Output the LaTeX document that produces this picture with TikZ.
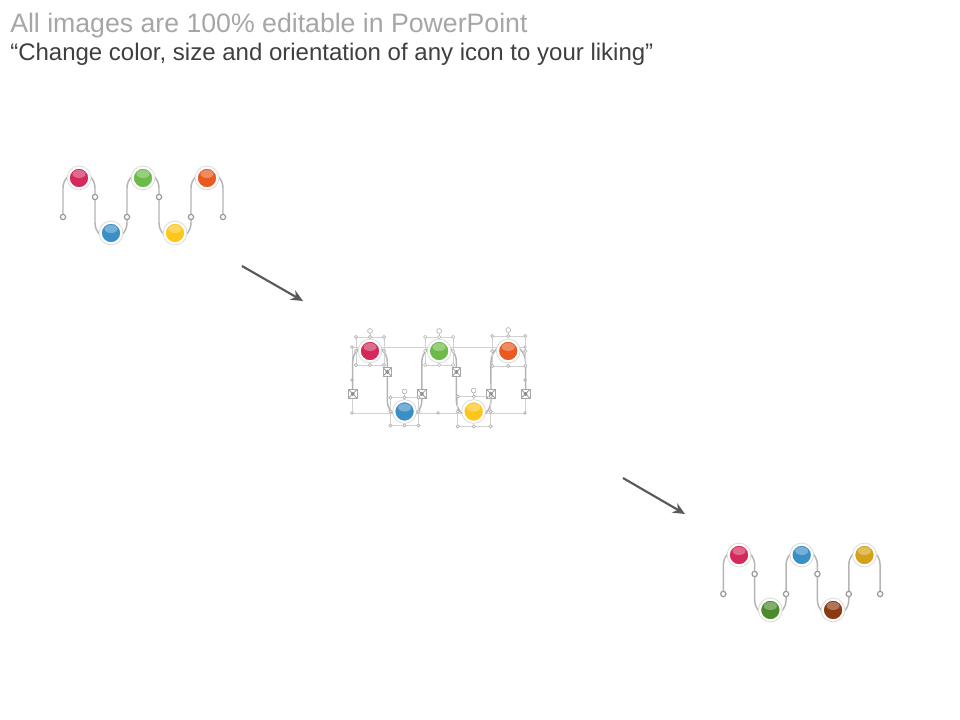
\documentclass[tikz,border=0pt]{standalone}
\usepackage{fontspec}
\setmainfont{Liberation Sans}
\usetikzlibrary{arrows.meta}

\definecolor{headgray}{HTML}{A6A6A6}
\definecolor{subgray}{HTML}{3F3F3F}
\definecolor{wiregray}{HTML}{B4B4B4}
\definecolor{ballred}{HTML}{D42A5B}
\definecolor{ballgreen}{HTML}{6CBB48}
\definecolor{ballorange}{HTML}{E85A20}
\definecolor{ballblue}{HTML}{3B8FC7}
\definecolor{ballyellow}{HTML}{FFC61A}
\definecolor{ballgold}{HTML}{D4A218}
\definecolor{balldkgreen}{HTML}{4C8A2E}
\definecolor{ballbrown}{HTML}{8B3A12}

\tikzset{
  ball/.style={circle, inner sep=0pt, minimum size=15.5pt, fill=#1,
    draw=white, line width=1.6pt,
    preaction={draw=black!15, line width=2.9pt},
    path picture={\fill[white,opacity=.3]
      ([yshift=3pt]path picture bounding box.center)
      ellipse[x radius=6.5, y radius=4];}},
  dot/.style={circle, draw=black!40, fill=white, line width=.9pt,
    inner sep=0pt, minimum size=4pt},
  xhandle/.style={rectangle, draw=black!35, fill=white, line width=.5pt,
    inner sep=0pt, minimum size=6.5pt,
    path picture={\draw[black!45, line width=.5pt]
      (path picture bounding box.south west) -- (path picture bounding box.north east)
      (path picture bounding box.north west) -- (path picture bounding box.south east)
      (path picture bounding box.center) circle[radius=1.6];}},
  wire/.style={draw=wiregray, line width=1.1pt},
  frame/.style={draw=black!18, line width=.6pt},
  grip/.style={draw=black!30, fill=white, line width=.5pt},
  pointer/.style={draw=black!65, line width=1.6pt, -{Stealth[length=9pt,width=8pt]}},
  pics/wave/.style n args={5}{code={
    \coordinate (-d0) at (-16,39);
    \coordinate (-d1) at (16,19);
    \coordinate (-d2) at (48,39);
    \coordinate (-d3) at (80,19);
    \coordinate (-d4) at (112,39);
    \coordinate (-d5) at (144,39);
    \path[wire] (-d0) -- (-16,10) arc[start angle=180,end angle=360,radius=16]
      -- (-d1) -- (16,45) arc[start angle=180,end angle=0,radius=16]
      -- (-d2) -- (48,10) arc[start angle=180,end angle=360,radius=16]
      -- (-d3) -- (80,45) arc[start angle=180,end angle=0,radius=16]
      -- (-d4) -- (112,10) arc[start angle=180,end angle=360,radius=16]
      -- (-d5);
    \node[ball=#1] (-c1) at (0,0) {};
    \node[ball=#2] (-c2) at (32,55) {};
    \node[ball=#3] (-c3) at (64,0) {};
    \node[ball=#4] (-c4) at (96,55) {};
    \node[ball=#5] (-c5) at (128,0) {};
    \foreach \i in {0,...,5}
      \node[dot] (-p\i) at (-d\i) {};
  }}
}

\begin{document}
\begin{tikzpicture}[x=.75pt,y=-.75pt]
\useasboundingbox (0,0) rectangle (960,720);

% heading
\node[anchor=base west, text=headgray, font=\fontsize{20}{24}\selectfont, inner sep=0pt]
  (head) at (10,33) {All images are 100\% editable in PowerPoint};
\node[anchor=base west, text=subgray, font=\fontsize{18}{22}\selectfont, inner sep=0pt]
  (sub) at (10,61) {“Change color, size and orientation of any icon to your liking”};

% first wave
\pic (w1) at (79,178) {wave={ballred}{ballblue}{ballgreen}{ballyellow}{ballorange}};

% second wave, selected
\draw[frame] (352,347) rectangle (525,413);
\foreach \a/\b in {352/347,438/347,525/347,352/380,525/380,352/413,438/413,525/413}
  \draw[grip] (\a,\b) circle[radius=1.4];
\pic[xscale=1.08, yscale=1.1, dot/.style={xhandle}] (w2) at (370,351)
  {wave={ballred}{ballblue}{ballgreen}{ballyellow}{ballorange}};
\foreach \n in {w2-c1,w2-c2,w2-c3}{
  \begin{scope}[shift={(\n)}]
    \draw[frame] (-14,-14) rectangle (14,14);
    \draw[frame] (0,-14) -- (0,-18);
    \draw[grip] (0,-20) circle[radius=2.4];
    \foreach \a/\b in {-14/-14,0/-14,14/-14,-14/0,14/0,-14/14,0/14,14/14}
      \draw[grip] (\a,\b) circle[radius=1.6];
  \end{scope}
}
\foreach \n in {w2-c4,w2-c5}{
  \begin{scope}[shift={(\n)}]
    \draw[frame] (-16,-15) rectangle (17,15);
    \draw[frame] (0,-15) -- (0,-19);
    \draw[grip] (0,-21) circle[radius=2.4];
    \foreach \a/\b in {-16/-15,0/-15,17/-15,-16/0,17/0,-16/15,0/15,17/15}
      \draw[grip] (\a,\b) circle[radius=1.6];
  \end{scope}
}

% third wave
\pic[xscale=.98] (w3) at (739,555) {wave={ballred}{balldkgreen}{ballblue}{ballbrown}{ballgold}};

% arrows
\coordinate (a1s) at (242,266);
\coordinate (a1e) at (303,301);
\coordinate (a2s) at (623,478);
\coordinate (a2e) at (685,514);
\draw[pointer] (a1s) -- (a1e);
\draw[pointer] (a2s) -- (a2e);
\end{tikzpicture}
\end{document}
